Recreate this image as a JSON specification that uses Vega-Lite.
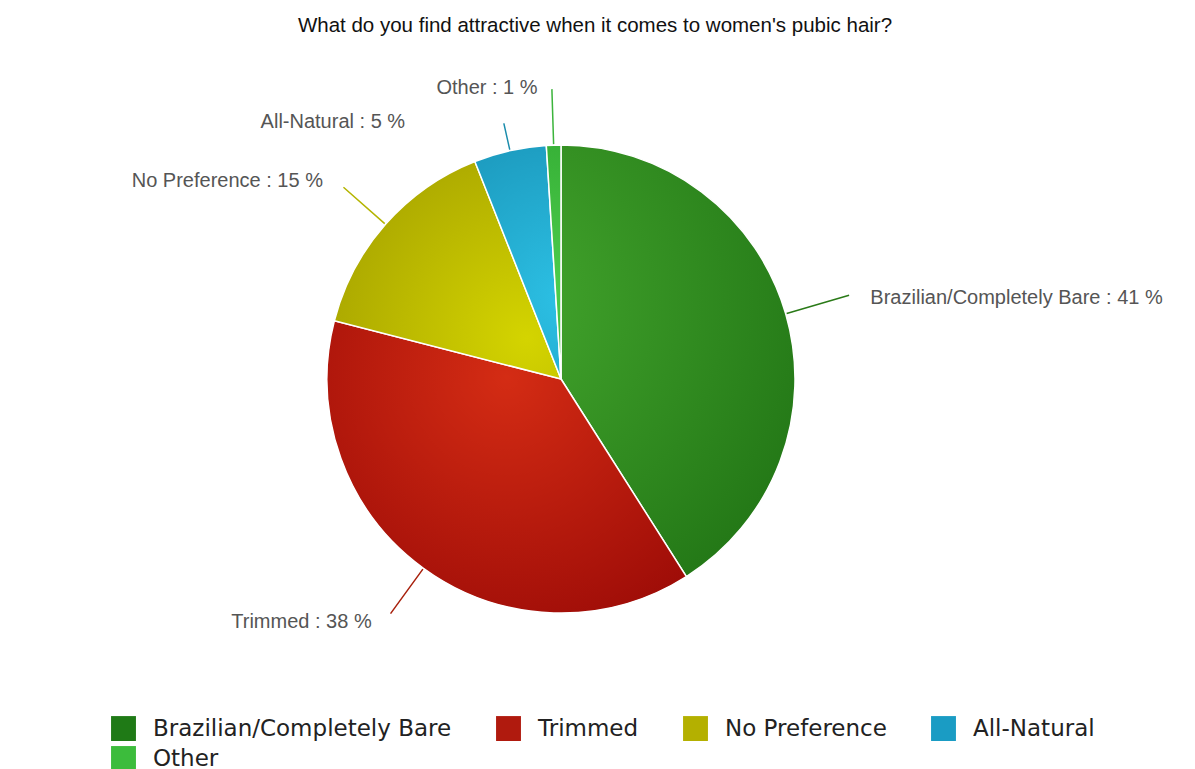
{
  "$schema": "https://vega.github.io/schema/vega-lite/v6.json",
  "description": "Pie chart: What do you find attractive when it comes to women's pubic hair?",
  "width": 1122,
  "height": 658,
  "autosize": {"type": "none"},
  "padding": {"top": 50, "left": 0, "right": 73, "bottom": 61},
  "background": "white",
  "title": {
    "text": "What do you find attractive when it comes to women's pubic hair?",
    "anchor": "middle",
    "frame": "group",
    "dx": 34,
    "offset": 14,
    "font": "Liberation Sans",
    "fontSize": 20.5,
    "fontWeight": "normal",
    "color": "#111"
  },
  "data": {
    "values": [
      {"answer": "Brazilian/Completely Bare", "pct": 41, "order": 1},
      {"answer": "Trimmed", "pct": 38, "order": 2},
      {"answer": "No Preference", "pct": 15, "order": 3},
      {"answer": "All-Natural", "pct": 5, "order": 4},
      {"answer": "Other", "pct": 1, "order": 5}
    ]
  },
  "transform": [
    {"window": [{"op": "sum", "field": "pct", "as": "end"}], "sort": [{"field": "order"}], "frame": [null, 0]},
    {"calculate": "datum.end - datum.pct", "as": "start"},
    {"calculate": "datum.end - datum.pct / 2", "as": "mid"},
    {"calculate": "datum.answer + ' : ' + datum.pct + ' %'", "as": "label"}
  ],
  "layer": [
    {
      "mark": {"type": "arc", "outerRadius": 234, "stroke": "white", "strokeWidth": 1.5},
      "encoding": {
        "theta": {"field": "start", "type": "quantitative", "stack": null, "scale": {"domain": [0, 100]}},
        "theta2": {"field": "end"},
        "color": {
          "field": "answer",
          "type": "nominal",
          "sort": ["Brazilian/Completely Bare", "Trimmed", "No Preference", "All-Natural", "Other"],
          "scale": {
            "domain": ["Brazilian/Completely Bare", "Trimmed", "No Preference", "All-Natural", "Other"],
            "range": ["#1f7a16", "#b01a0e", "#b4b000", "#1a9cc4", "#3cbc3c"]
          },
          "legend": {
            "orient": "none",
            "legendX": 111,
            "legendY": 666,
            "direction": "horizontal",
            "columns": 4,
            "title": null,
            "symbolType": "square",
            "symbolSize": 620,
            "symbolStrokeWidth": 0,
            "labelFont": "DejaVu Sans",
            "labelFontSize": 23,
            "labelColor": "#222",
            "labelOffset": 17,
            "columnPadding": 44,
            "rowPadding": 5,
            "labelLimit": 0
          }
        }
      }
    },
    {
      "transform": [{"filter": "datum.answer === 'Brazilian/Completely Bare'"}],
      "mark": {"type": "arc", "outerRadius": 234, "stroke": "white", "strokeWidth": 1.5,
               "fill": {"gradient": "radial", "x1": 0.06, "y1": 0.36, "r1": 0, "x2": 0.06, "y2": 0.36, "r2": 1.1,
                        "stops": [{"offset": 0, "color": "#45a82e"}, {"offset": 1, "color": "#17660e"}]}},
      "encoding": {
        "theta": {"field": "start", "type": "quantitative", "stack": null},
        "theta2": {"field": "end"}
      }
    },
    {
      "transform": [{"filter": "datum.answer === 'Trimmed'"}],
      "mark": {"type": "arc", "outerRadius": 234, "stroke": "white", "strokeWidth": 1.5,
               "fill": {"gradient": "radial", "x1": 0.5, "y1": 0.25, "r1": 0, "x2": 0.5, "y2": 0.25, "r2": 0.95,
                        "stops": [{"offset": 0, "color": "#d42c14"}, {"offset": 1, "color": "#900404"}]}},
      "encoding": {
        "theta": {"field": "start", "type": "quantitative", "stack": null},
        "theta2": {"field": "end"}
      }
    },
    {
      "transform": [{"filter": "datum.answer === 'No Preference'"}],
      "mark": {"type": "arc", "outerRadius": 234, "stroke": "white", "strokeWidth": 1.5,
               "fill": {"gradient": "radial", "x1": 0.85, "y1": 0.8, "r1": 0, "x2": 0.85, "y2": 0.8, "r2": 1.1,
                        "stops": [{"offset": 0, "color": "#d4d400"}, {"offset": 1, "color": "#a29e00"}]}},
      "encoding": {
        "theta": {"field": "start", "type": "quantitative", "stack": null},
        "theta2": {"field": "end"}
      }
    },
    {
      "transform": [{"filter": "datum.answer === 'All-Natural'"}],
      "mark": {"type": "arc", "outerRadius": 234, "stroke": "white", "strokeWidth": 1.5,
               "fill": {"gradient": "radial", "x1": 0.7, "y1": 0.66, "r1": 0, "x2": 0.7, "y2": 0.66, "r2": 0.95,
                        "stops": [{"offset": 0, "color": "#2cc0e4"}, {"offset": 1, "color": "#1890b4"}]}},
      "encoding": {
        "theta": {"field": "start", "type": "quantitative", "stack": null},
        "theta2": {"field": "end"}
      }
    },
    {
      "transform": [{"filter": "datum.answer === 'Other'"}],
      "mark": {"type": "arc", "outerRadius": 234, "stroke": "white", "strokeWidth": 1.5,
               "fill": {"gradient": "radial", "x1": 0.5, "y1": 0.6, "r1": 0, "x2": 0.5, "y2": 0.6, "r2": 1,
                        "stops": [{"offset": 0, "color": "#4ccc4c"}, {"offset": 1, "color": "#2aa02a"}]}},
      "encoding": {
        "theta": {"field": "start", "type": "quantitative", "stack": null},
        "theta2": {"field": "end"}
      }
    },
    {
      "transform": [{"filter": "datum.answer !== 'All-Natural' && datum.answer !== 'Brazilian/Completely Bare'"}],
      "mark": {"type": "arc", "innerRadius": 235, "outerRadius": 290, "fill": null, "strokeWidth": 1.5},
      "encoding": {
        "theta": {"field": "mid", "type": "quantitative", "stack": null},
        "theta2": {"field": "mid"},
        "stroke": {
          "field": "answer",
          "type": "nominal",
          "scale": {
            "domain": ["Brazilian/Completely Bare", "Trimmed", "No Preference", "All-Natural", "Other"],
            "range": ["#2a7a18", "#a8200c", "#b4b400", "#1a8cac", "#3cb43c"]
          },
          "legend": null
        }
      }
    },
    {
      "transform": [{"filter": "datum.answer === 'Brazilian/Completely Bare'"}],
      "mark": {"type": "arc", "innerRadius": 235, "outerRadius": 300, "fill": null, "strokeWidth": 1.5},
      "encoding": {
        "theta": {"field": "mid", "type": "quantitative", "stack": null},
        "theta2": {"field": "mid"},
        "stroke": {"field": "answer", "type": "nominal", "legend": null}
      }
    },
    {
      "transform": [{"filter": "datum.answer === 'All-Natural'"}],
      "mark": {"type": "arc", "innerRadius": 235, "outerRadius": 262, "fill": null, "strokeWidth": 1.5},
      "encoding": {
        "theta": {"field": "mid", "type": "quantitative", "stack": null},
        "theta2": {"field": "mid"},
        "stroke": {"field": "answer", "type": "nominal", "legend": null}
      }
    },
    {
      "transform": [{"filter": "datum.answer === 'Brazilian/Completely Bare'"}],
      "mark": {"type": "text", "radius": 318, "align": "left", "baseline": "middle", "dx": 4, "dy": 8,
               "font": "Liberation Sans", "fontSize": 20, "color": "#555"},
      "encoding": {
        "theta": {"field": "mid", "type": "quantitative", "stack": null},
        "text": {"field": "label"}
      }
    },
    {
      "transform": [{"filter": "datum.answer === 'Trimmed' || datum.answer === 'No Preference'"}],
      "mark": {"type": "text", "radius": 300, "align": "right", "baseline": "middle", "dx": -13, "dy": 0,
               "font": "Liberation Sans", "fontSize": 20, "color": "#555"},
      "encoding": {
        "theta": {"field": "mid", "type": "quantitative", "stack": null},
        "text": {"field": "label"}
      }
    },
    {
      "transform": [{"filter": "datum.answer === 'Other'"}],
      "mark": {"type": "text", "radius": 300, "align": "right", "baseline": "middle", "dx": -14, "dy": 9,
               "font": "Liberation Sans", "fontSize": 20, "color": "#555"},
      "encoding": {
        "theta": {"field": "mid", "type": "quantitative", "stack": null},
        "text": {"field": "label"}
      }
    },
    {
      "transform": [{"filter": "datum.answer === 'All-Natural'"}],
      "mark": {"type": "text", "radius": 270, "align": "right", "baseline": "middle", "dx": -97, "dy": 6,
               "font": "Liberation Sans", "fontSize": 20, "color": "#555"},
      "encoding": {
        "theta": {"field": "mid", "type": "quantitative", "stack": null},
        "text": {"field": "label"}
      }
    }
  ],
  "config": {
    "view": {"stroke": null}
  }
}
